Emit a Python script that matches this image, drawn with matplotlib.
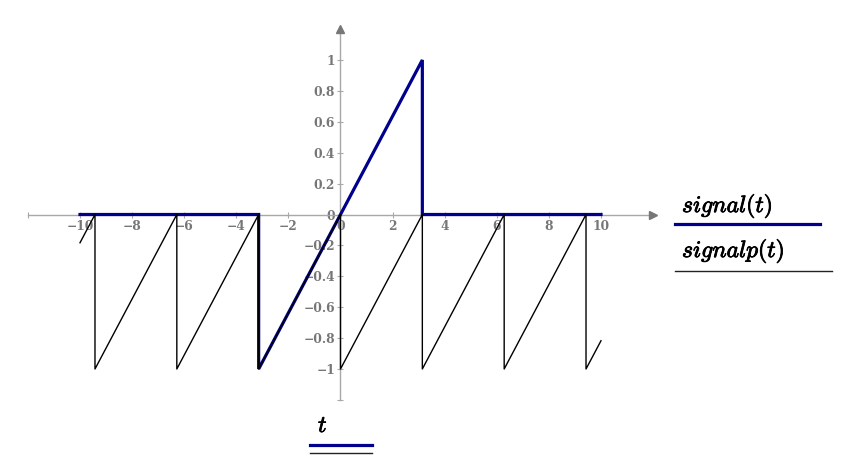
import matplotlib
matplotlib.use("Agg")
import matplotlib.pyplot as plt
from matplotlib.lines import Line2D
import matplotlib.patheffects as pe

plt.rcParams['mathtext.fontset'] = 'cm'

# signal(t) vertices
sig_t = [-10, -3.1416, -3.1416, 3.1416, 3.1416, 10]
sig_y = [0, 0, -1, 1, 0, 0]
# signalp(t) vertices (sawtooth)
sigp_t = [-10, -9.4248, -9.4248, -6.2832, -6.2832, -3.1416, -3.1416, 0, 0,
          3.1416, 3.1416, 6.2832, 6.2832, 9.4248, 9.4248, 10]
sigp_y = [-0.183, 0, -1, 0, -1, 0, -1, 0, -1, 0, -1, 0, -1, 0, -1, -0.817]

xticks = [-12, -10, -8, -6, -4, -2, 0, 2, 4, 6, 8, 10]
xticklabels = ['', '−10', '−8', '−6', '−4', '−2', '0', '2', '4', '6', '8', '10']
yticks = [-1.2, -1, -0.8, -0.6, -0.4, -0.2, 0, 0.2, 0.4, 0.6, 0.8, 1]
yticklabels = ['', '−1', '−0.8', '−0.6', '−0.4', '−0.2', '0', '0.2', '0.4', '0.6', '0.8', '1']

W, H = 853, 459
fig = plt.figure(figsize=(W / 100, H / 100), dpi=100)
ax = fig.add_axes([0, 0, 1, 1])
x0, sx = 340.5, 26.05
y0, sy = 214.5, 154.5
ax.set_xlim(-x0 / sx, (W - x0) / sx)
ax.set_ylim(-(H - y0) / sy, y0 / sy)
ax.patch.set_alpha(0)

axis_col = '#a8a8a8'
lab_col = '#767676'
for s in ['top', 'right']:
    ax.spines[s].set_visible(False)
ax.spines['left'].set_position(('data', 0))
ax.spines['bottom'].set_position(('data', 0))
ax.spines['left'].set_bounds(-1.2, 1.2)
ax.spines['bottom'].set_bounds(-12, 12)
for s in ['left', 'bottom']:
    ax.spines[s].set_color(axis_col)
    ax.spines[s].set_linewidth(1.0)

ax.set_xticks(xticks)
ax.set_xticklabels(xticklabels)
ax.set_yticks(yticks)
ax.set_yticklabels(yticklabels)
ax.tick_params(direction='inout', length=5, width=0.8, color=axis_col,
               labelcolor=lab_col, pad=1.5)
for lab in ax.get_xticklabels() + ax.get_yticklabels():
    lab.set_fontfamily('DejaVu Serif')
    lab.set_fontweight('bold')
    lab.set_fontsize(8.8)

# arrows
ax.plot([12], [0], marker='>', color='#777777', markersize=5.5, clip_on=False, zorder=3)
ax.plot([0], [1.2], marker='^', color='#777777', markersize=5.5, clip_on=False, zorder=3)

ax.plot(sig_t, sig_y, color='#00008c', linewidth=2.3, zorder=4, solid_joinstyle='miter')
ax.plot(sigp_t, sigp_y, color='black', linewidth=1.0, zorder=5)

def fx(px):
    return px / W

def fy(py):
    return 1 - py / H

bold = [pe.withStroke(linewidth=0.6, foreground='black')]
fig.text(fx(682), fy(212), r'$signal(t)$', fontsize=17, va='baseline', ha='left',
         path_effects=bold)
fig.add_artist(Line2D([fx(675), fx(820)], [fy(224), fy(224)], color='#00008c', linewidth=2.3,
                      transform=fig.transFigure))
fig.text(fx(682), fy(257), r'$signalp(t)$', fontsize=17, va='baseline', ha='left',
         path_effects=bold)
fig.add_artist(Line2D([fx(675), fx(832)], [fy(271), fy(271)], color='#222222', linewidth=1.0,
                      transform=fig.transFigure))

fig.text(fx(318), fy(432), r'$t$', fontsize=17, va='baseline', ha='left', path_effects=bold)
fig.add_artist(Line2D([fx(310), fx(372)], [fy(445), fy(445)], color='#00008c', linewidth=2.3,
                      transform=fig.transFigure))
fig.add_artist(Line2D([fx(310), fx(372)], [fy(453), fy(453)], color='#222222', linewidth=1.0,
                      transform=fig.transFigure))

fig.savefig('out.png', dpi=100)
